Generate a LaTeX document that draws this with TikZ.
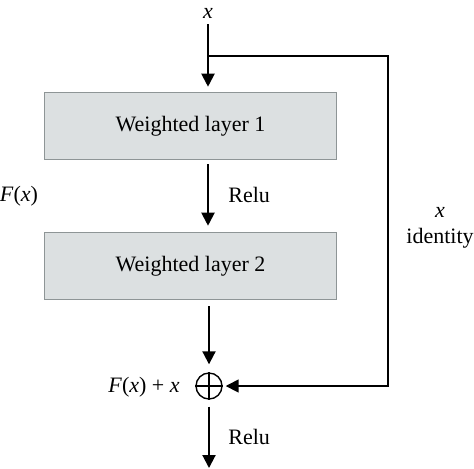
\documentclass[tikz,border=0pt]{standalone}
\usepackage{fontspec}
\setmainfont{Liberation Serif}
\usetikzlibrary{arrows.meta}
\usetikzlibrary{calc}
\definecolor{boxfill}{HTML}{DCE0E1}
\definecolor{boxline}{HTML}{8E9596}

\tikzset{
  layer/.style={draw=boxline, fill=boxfill, line width=.8pt, minimum width=146pt, minimum height=33.5pt, inner sep=0},
  flow/.style={line width=1pt, -{Triangle[width=6.5pt,length=6.5pt]}},
  skip/.style={line width=.8pt, -{Triangle[width=6.5pt,length=6.5pt]}},
  lbl/.style={inner sep=0},
}

\begin{document}
\begin{tikzpicture}[x=.5pt, y=-.5pt, font=\fontsize{11}{13}\selectfont]
\useasboundingbox (0,0) rectangle (474,468);
% blocks
\node[lbl] (in) at (208,13) {\textit{x}};
\node[layer] (wl1) at (190.5,126) {Weighted layer 1};
\node[layer] (wl2) at (190.5,266) {Weighted layer 2};
\node[circle, draw, line width=.7pt, minimum size=13pt, inner sep=0] (sum) at (209,386) {};
\draw[line width=.7pt] (sum.north)--(sum.south) (sum.west)--(sum.east);
\coordinate (br) at (208,56);
\coordinate (rt) at (388,56);
\coordinate (out) at (209,468);
\coordinate (a1) at (wl1.south -| in.south);
\coordinate (a2) at (wl2.north -| in.south);
\coordinate (a3) at (wl2.south -| sum.north);
% main path
\draw[flow, shorten <=3pt, shorten >=2.5pt] (in.south) -- (in.south |- wl1.north);
\draw[flow, shorten <=2pt, shorten >=3pt] (a1) -- (a2);
\draw[flow, shorten <=3pt, shorten >=4pt] (a3) -- (sum.north);
\draw[flow, shorten <=3.5pt] (sum.south) -- (out);
% identity
\draw[skip, shorten >=1.5pt] (br) -- (rt) |- (sum.east);
% labels
\node[lbl] (fx) at (19,196) {\textit{F}(\textit{x})};
\node[lbl, anchor=west] (relu1) at (228,195) {Relu};
\node[lbl] (idx) at (440,212) {\textit{x}};
\node[lbl] (idn) at (440,238) {identity};
\node[lbl, anchor=east] (fsum) at (180,387) {\textit{F}(\textit{x}) + \textit{x}};
\node[lbl, anchor=west] (relu2) at (228,437) {Relu};
\end{tikzpicture}
\end{document}
